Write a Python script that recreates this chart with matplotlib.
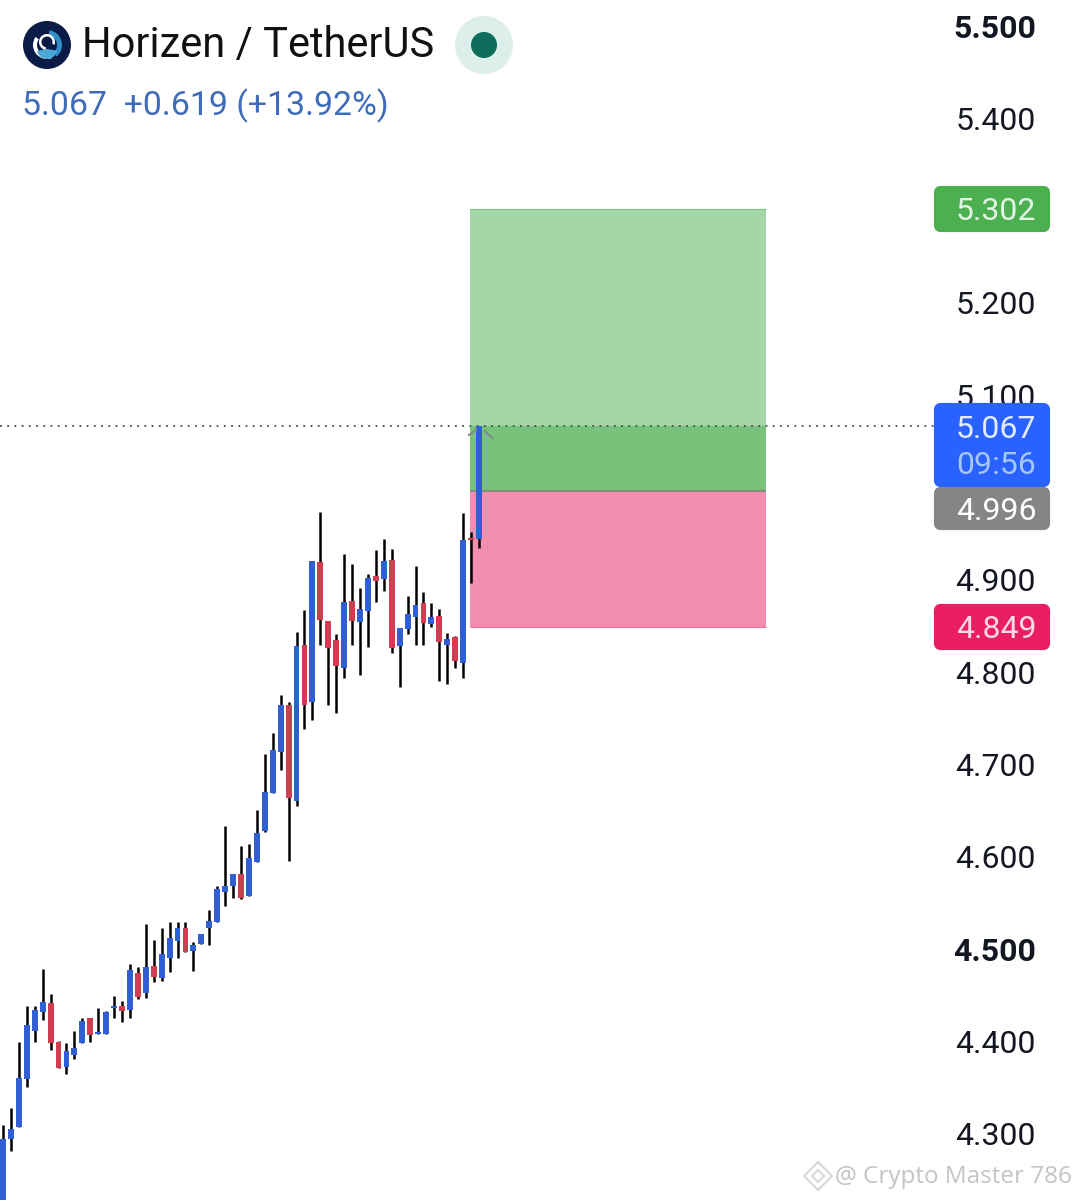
import numpy as np
import matplotlib
matplotlib.use("Agg")
import matplotlib.pyplot as plt
from matplotlib.patches import Circle, FancyBboxPatch, Rectangle, Wedge, Polygon

plt.rcParams['font.family'] = ['Roboto', 'DejaVu Sans']

# ohlc, oldest candle first
opens = [4.218, 4.294, 4.308, 4.359, 4.411, 4.432, 4.442, 4.400, 4.372, 4.385,
         4.398, 4.425, 4.408, 4.408, 4.436, 4.438, 4.434, 4.474, 4.453, 4.482,
         4.469, 4.490, 4.509, 4.523, 4.498, 4.506, 4.523, 4.530, 4.562, 4.568,
         4.582, 4.558, 4.594, 4.628, 4.669, 4.714, 4.764, 4.661, 4.830, 4.768,
         4.919, 4.856, 4.835, 4.805, 4.877, 4.854, 4.866, 4.904, 4.901, 4.922,
         4.828, 4.847, 4.860, 4.875, 4.852, 4.861, 4.830, 4.838, 4.810, 4.945,
         4.944]
highs = [4.310, 4.328, 4.399, 4.438, 4.439, 4.479, 4.451, 4.401, 4.398, 4.411,
         4.425, 4.425, 4.436, 4.433, 4.449, 4.444, 4.484, 4.481, 4.527, 4.510,
         4.523, 4.529, 4.529, 4.529, 4.508, 4.516, 4.542, 4.568, 4.633, 4.582,
         4.612, 4.614, 4.651, 4.711, 4.734, 4.775, 4.768, 4.844, 4.867, 4.921,
         4.974, 4.856, 4.841, 4.928, 4.917, 4.891, 4.906, 4.932, 4.944, 4.933,
         4.848, 4.883, 4.915, 4.887, 4.875, 4.868, 4.842, 4.839, 4.972, 4.952,
         5.067]
lows = [4.218, 4.282, 4.308, 4.351, 4.400, 4.423, 4.391, 4.371, 4.365, 4.381,
        4.398, 4.399, 4.408, 4.408, 4.426, 4.421, 4.425, 4.446, 4.447, 4.465,
        4.466, 4.475, 4.490, 4.497, 4.476, 4.506, 4.505, 4.529, 4.547, 4.555,
        4.554, 4.558, 4.594, 4.627, 4.669, 4.694, 4.596, 4.655, 4.738, 4.748,
        4.829, 4.764, 4.756, 4.794, 4.830, 4.797, 4.827, 4.876, 4.888, 4.821,
        4.784, 4.841, 4.830, 4.830, 4.849, 4.790, 4.787, 4.805, 4.794, 4.897,
        4.935]
closes = [4.295, 4.305, 4.360, 4.418, 4.434, 4.443, 4.398, 4.371, 4.390, 4.393,
          4.422, 4.407, 4.410, 4.432, 4.438, 4.433, 4.477, 4.448, 4.481, 4.470,
          4.495, 4.512, 4.523, 4.497, 4.505, 4.516, 4.531, 4.565, 4.569, 4.581,
          4.556, 4.599, 4.626, 4.670, 4.716, 4.764, 4.664, 4.828, 4.765, 4.921,
          4.857, 4.826, 4.807, 4.876, 4.855, 4.868, 4.902, 4.899, 4.920, 4.826,
          4.848, 4.863, 4.873, 4.853, 4.860, 4.833, 4.836, 4.812, 4.943, 4.943,
          5.067]

# 5.300 and 5.000 sit behind the price tags in the reference
price_ticks = [5.5, 5.4, 5.2, 5.1, 4.9, 4.8, 4.7, 4.6, 4.5, 4.4, 4.3]
bold_ticks = [5.5, 4.5]

last_price = 5.067
target_price = 5.302
entry_price = 4.996
stop_price = 4.849
pos_start = 58.87   # candle index where the long position box starts
pos_end = 96.18

title = "Horizen / TetherUS"
subtitle = "5.067  +0.619 (+13.92%)"
countdown = "09:56"
watermark = "@ Crypto Master 786"

BLUE = "#2f5fd2"
RED = "#d13c50"

fig = plt.figure(figsize=(10.8, 12), dpi=100, facecolor="white")
ax = fig.add_axes([0, 0, 1, 1])
ax.set_xlim(-0.378, 135.76)
ax.set_ylim(4.2284, 5.5281)

x = np.arange(len(opens))
opens = np.array(opens)
closes = np.array(closes)
colors = [BLUE if c >= o else RED for o, c in zip(opens, closes)]

ax.vlines(x, lows, highs, color="black", lw=1.8, zorder=3)
ax.bar(x, np.abs(closes - opens), bottom=np.minimum(opens, closes), width=0.74,
       color=colors, zorder=4)

# long position box, the green part is laid twice where price is already in profit
w = pos_end - pos_start
ax.add_patch(Rectangle((pos_start, entry_price), w, target_price - entry_price,
                       fc="#4caf50", alpha=0.5, lw=0, zorder=1))
ax.add_patch(Rectangle((pos_start, entry_price), w, last_price - entry_price,
                       fc="#4caf50", alpha=0.5, lw=0, zorder=1))
ax.add_patch(Rectangle((pos_start, stop_price), w, entry_price - stop_price,
                       fc="#e91e63", alpha=0.5, lw=0, zorder=1))
ax.hlines(target_price, pos_start, pos_end, color="#7cc47f", lw=0.8, zorder=1)
ax.hlines(entry_price, pos_start, pos_end, color="#7f8a80", lw=1.2, zorder=1)
ax.hlines(stop_price, pos_start, pos_end, color="#e57399", lw=0.8, zorder=1)

ax.hlines(last_price, -0.378, 117.3, color="#3f4f4f", lw=1.3,
          linestyles=(0, (1, 3)), zorder=2)

ax.set_xticks([])
ax.set_yticks(price_ticks)
ax.set_yticklabels([f"{p:.3f}" for p in price_ticks])
ax.tick_params(axis="y", length=0, pad=-746, labelsize=23, labelcolor="#131722")
for lab, p in zip(ax.get_yticklabels(), price_ticks):
    if p in bold_ticks:
        lab.set_fontweight("bold")
for s in ax.spines.values():
    s.set_visible(False)

# overlay in pixel coordinates for header, price tags and watermark
ov = fig.add_axes([0, 0, 1, 1], facecolor="none")
ov.set_xlim(0, 1080)
ov.set_ylim(1200, 0)
ov.axis("off")

# small chevron above last candle, the candle hides its tip
ov.plot([469, 476], [435, 430], color="#7f8f85", lw=1.5)
ov.plot([485, 492], [431, 438], color="#7f8f85", lw=1.5)


def price_tag(y0, y1, color, label, txt="white", sub=None):
    ov.add_patch(FancyBboxPatch((936, y0 + 2), 112, y1 - y0 - 4,
                                boxstyle="round,pad=0,rounding_size=5",
                                mutation_aspect=1, fc=color, ec=color, lw=3))
    if sub is None:
        ov.text(996, (y0 + y1) / 2 + 3, label, color=txt, fontsize=23, ha="center", va="center")
    else:
        ov.text(996, y0 + 26, label, color=txt, fontsize=23, ha="center", va="center")
        ov.text(996, y0 + 63, sub, color="#a6c6f7", fontsize=23, ha="center", va="center")


price_tag(186, 232, "#4caf50", f"{target_price:.3f}", txt="#e4f4e4")
price_tag(403, 487, "#2962ff", f"{last_price:.3f}", txt="#e2ecff", sub=countdown)
price_tag(487, 530, "#858585", f"{entry_price:.3f}")
price_tag(604, 650, "#e91e63", f"{stop_price:.3f}", txt="#fcd9e6")

ov.text(82, 46, title, fontsize=30, color="#111111", ha="left", va="center")
ov.text(22, 106, subtitle, fontsize=24.4, color="#3f6cb8", ha="left", va="center")

# coin logo
ov.add_patch(Circle((47, 45), 24, fc="#0a1b45", lw=0))
ov.add_patch(Wedge((47, 45), 15, -80, 50, width=5, fc="#2f8fc6", lw=0))
ov.add_patch(Wedge((47, 45), 14, 70, 215, width=4, fc="white", lw=0))
ov.add_patch(Wedge((47, 49), 10, 10, 170, fc="#4aa8d8", lw=0))
ov.add_patch(Wedge((47, 42), 8, 100, 20, width=2.5, fc="white", lw=0))

# market status dot
ov.add_patch(Circle((484, 45), 29, fc="#dcefeb", lw=0))
ov.add_patch(Circle((484, 45), 13, fc="#0f6b5a", lw=0))

# watermark
ov.add_patch(Polygon([(818, 1162), (832, 1176), (818, 1190), (804, 1176)], closed=True,
                     fc="none", ec="#d8d8d8", lw=1.5))
ov.add_patch(Polygon([(818, 1170), (824, 1176), (818, 1182), (812, 1176)], closed=True,
                     fc="none", ec="#d8d8d8", lw=1.5))
ov.text(1072, 1177, watermark, fontsize=17.5, color="#c4c4c4", ha="right", va="center",
        family=["Open Sans", "DejaVu Sans"])

fig.savefig("out.png", dpi=100)
